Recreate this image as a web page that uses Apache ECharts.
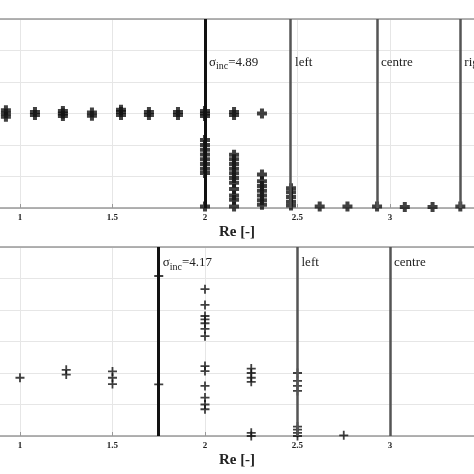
<!DOCTYPE html><html><head><meta charset="utf-8">
<script src="https://cdn.jsdelivr.net/npm/echarts@6/dist/echarts.min.js"></script>
<style>html,body{margin:0;padding:0;background:#fff}#c{width:474px;height:474px}</style></head><body><div id="c"></div>
<script>
const xTicks=[1,1.5,2,2.5,3];
const topPoints=[
[0.924,2.9],[0.924,3.0],[0.924,3.1],[1.081,2.95],[1.081,3.05],[1.232,2.92],[1.232,3.0],[1.232,3.08],
[1.389,2.93],[1.389,3.03],[1.546,2.95],[1.546,3.05],[1.546,3.12],[1.697,2.95],[1.697,3.05],
[1.854,2.95],[1.854,3.05],[2.0,2.92],[2.0,3.0],[2.0,3.08],[2.157,2.95],[2.157,3.05],[2.308,3.0],
[2.0,2.16],[2.0,2.0],[2.0,1.85],[2.0,1.7],[2.0,1.55],[2.0,1.4],[2.0,1.25],[2.0,1.11],[2.0,0.05],
[2.157,1.69],[2.157,1.55],[2.157,1.4],[2.157,1.25],[2.157,1.1],[2.157,0.95],[2.157,0.8],[2.157,0.6],[2.157,0.4],[2.157,0.26],[2.157,0.05],
[2.308,1.06],[2.308,0.85],[2.308,0.7],[2.308,0.55],[2.308,0.4],[2.308,0.25],[2.308,0.1],
[2.465,0.63],[2.465,0.5],[2.465,0.35],[2.465,0.2],[2.465,0.08],
[2.62,0.05],[2.77,0.05],[2.93,0.05],[3.08,0.03],[3.23,0.03],[3.38,0.05]];
const topLines=[{x:2.0,label:'sigma',value:'4.89',main:true},{x:2.465,label:'left'},{x:2.93,label:'centre'},{x:3.38,label:'right'}];
const botPoints=[
[1,1.85],[1.25,2.1],[1.25,1.95],[1.5,2.05],[1.5,1.85],[1.5,1.65],[1.75,5.08],[1.75,1.64],
[2,4.66],[2,4.16],[2,3.81],[2,3.7],[2,3.58],[2,3.4],[2,3.17],[2,2.22],[2,2.06],[2,1.59],[2,1.22],[2,1.0],[2,0.85],
[2.25,2.14],[2.25,2.0],[2.25,1.85],[2.25,1.72],[2.25,0.1],[2.25,0.0],
[2.5,2.0],[2.5,1.75],[2.5,1.59],[2.5,1.43],[2.5,0.3],[2.5,0.2],[2.5,0.1],[2.5,0.0],[2.75,0.02]];
const botLines=[{x:1.75,label:'sigma',value:'4.17',main:true},{x:2.5,label:'left'},{x:3,label:'centre'}];

const plusTop='path://M3,0H7V3H10V7H7V10H3V7H0V3H3Z';
const plusBot='path://M4,0H6V4H10V6H6V10H4V6H0V4H4Z';
const font='Liberation Serif';
const grids=[{left:0,right:0,top:19,height:189},{left:0,right:0,top:247,height:189}];
function xa(i){return {gridIndex:i,type:'value',min:0.892,max:3.454,
  axisLine:{show:true,onZero:false,lineStyle:{color:'#999',width:1.5}},axisTick:{show:true,inside:true,length:4,lineStyle:{color:'#999'},customValues:xTicks},
  splitLine:{show:true,lineStyle:{color:'#e6e6e6'},customValues:xTicks},
  axisLabel:{customValues:xTicks,fontFamily:font,fontWeight:'bold',fontSize:9,color:'#222',margin:5,showMinLabel:true},
  name:'Re [-]',nameLocation:'middle',nameGap:17,nameTextStyle:{fontFamily:font,fontWeight:'bold',fontSize:15,color:'#222'}};}
function ya(i){return {gridIndex:i,type:'value',min:0,max:6,interval:1,axisLabel:{show:false},axisLine:{show:false},axisTick:{show:false},
  splitLine:{lineStyle:{color:'#e6e6e6'}}};}
function lineSeries(i,lines){return {type:'scatter',xAxisIndex:i,yAxisIndex:i,data:[],silent:true,
  markLine:{symbol:'none',silent:true,label:{show:false},data:lines.map(l=>({xAxis:l.x,lineStyle:{color:l.main?'#111':'#555',width:l.main?3:2.5,type:'solid'}}))}};}
const chart=echarts.init(document.getElementById('c'));
chart.setOption({animation:false,grid:grids,xAxis:[xa(0),xa(1)],yAxis:[ya(0),ya(1)],
  series:[lineSeries(0,topLines),lineSeries(1,botLines),
   {type:'scatter',xAxisIndex:0,yAxisIndex:0,data:topPoints,symbol:plusTop,symbolSize:10,itemStyle:{color:'#111'}},
   {type:'scatter',xAxisIndex:1,yAxisIndex:1,data:botPoints,symbol:plusBot,symbolSize:9,itemStyle:{color:'#111'}}]});
const texts=[{type:'line',shape:{x1:0,y1:19,x2:474,y2:19},style:{stroke:'#999',lineWidth:1.5}},
           {type:'line',shape:{x1:0,y1:247,x2:474,y2:247},style:{stroke:'#999',lineWidth:1.5}}];
[[0,topLines,4.63],[1,botLines,5.5]].forEach(([gi,lines,yv])=>{
  lines.forEach(l=>{
    const p=chart.convertToPixel({xAxisIndex:gi,yAxisIndex:gi},[l.x,yv]);
    const isS=l.label==='sigma';
    texts.push({type:'text',x:p[0]+4,y:p[1],style:{
      text:isS?'σ{sub|inc}='+l.value:l.label,fontFamily:font,fontSize:13,fill:'#222',verticalAlign:'middle',
      rich:{sub:{fontSize:10,fontFamily:font,padding:[9,0,0,0],fill:'#222'}}}});
  });
});
chart.setOption({graphic:texts});
</script></body></html>
